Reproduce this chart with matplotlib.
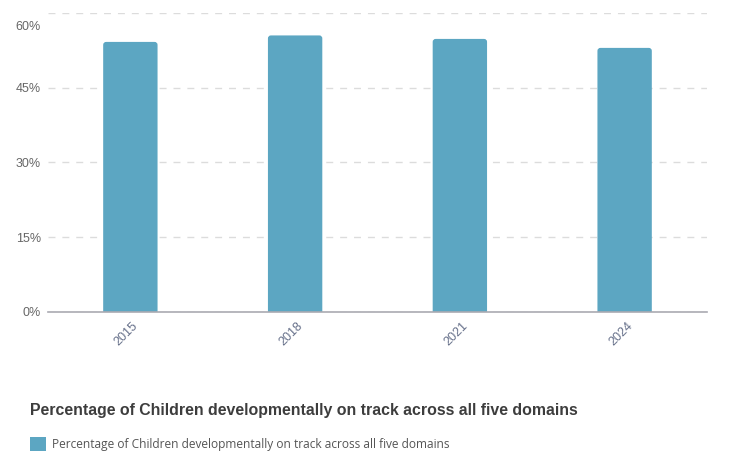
"""
Bar chart: share of children developmentally on track across all five domains.
"""

import matplotlib.pyplot as plt
import matplotlib.ticker as mtick
from matplotlib.patches import Patch, FancyBboxPatch
import matplotlib.transforms as mtransforms

bar_colour = '#5ca6c2'

years = ['2015', '2018', '2021', '2024']
on_track = [54.2, 55.5, 54.8, 53.0]
y_ticks = [0, 15, 30, 45, 60]
series_name = 'Percentage of Children developmentally on track across all five domains'

fig = plt.figure(figsize=(7.36, 4.73), dpi=100)
ax = fig.add_axes([0.0652, 0.3404, 0.8954, 0.6321])

bars = ax.bar(range(len(years)), on_track, width=0.33, color=bar_colour, zorder=3)
ax.set_xlim(-0.5, len(years) - 0.5)
ax.set_ylim(0, 60)

# swap plain bars for ones with slightly rounded tops
for b in bars:
    b.set_visible(False)
    rb = FancyBboxPatch((b.get_x(), -2), b.get_width(), b.get_height() + 2,
                        boxstyle='round,pad=0,rounding_size=0.018', mutation_aspect=33,
                        facecolor=bar_colour, edgecolor='none', zorder=3)
    ax.add_patch(rb)

# grid lines dashed, axis line at the bottom only
ax.set_yticks(y_ticks)
ax.yaxis.set_major_formatter(mtick.FuncFormatter(lambda v, p: f'{v:.0f}%'))
ax.grid(axis='y', color='#dcdcdc', linestyle=(0, (5, 5)), linewidth=1, zorder=0)
for s in ['top', 'right', 'left']:
    ax.spines[s].set_visible(False)
ax.spines['bottom'].set_color('#aaaab2')
ax.spines['bottom'].set_linewidth(1.2)
ax.spines['bottom'].set_zorder(4)

ax.tick_params(axis='y', length=0, pad=5, labelsize=9, labelcolor='#666666')
ax.tick_params(axis='x', length=0, pad=6, labelsize=9, labelcolor='#66708a')
for lab in ax.get_yticklabels():
    lab.set_fontfamily('Liberation Sans')

ax.set_xticks(range(len(years)))
ax.set_xticklabels(years, rotation=45, ha='center', family='Liberation Sans')
for lab in ax.get_xticklabels():
    lab.set_transform(lab.get_transform() + mtransforms.ScaledTranslation(-4/100, 0, fig.dpi_scale_trans))

# top label sits a bit lower than its grid line
top = ax.get_yticklabels()[-1]
top.set_transform(top.get_transform() + mtransforms.ScaledTranslation(0, -12/100, fig.dpi_scale_trans))

fig.text(30/736, 1 - 411/473, series_name, fontsize=11.4, fontweight='bold',
         color='#3d3d3d', family='Liberation Sans', va='center', ha='left')

handle = [Patch(facecolor=bar_colour, edgecolor='none')]
fig.legend(handle, [series_name], loc='center left', bbox_to_anchor=(19/736, 1 - 444/473),
           frameon=False, prop={'family': 'Open Sans', 'size': 8.6}, labelcolor='#555555',
           handlelength=1.35, handleheight=1.35, handletextpad=0.55)

plt.savefig('out.png', dpi=100)
